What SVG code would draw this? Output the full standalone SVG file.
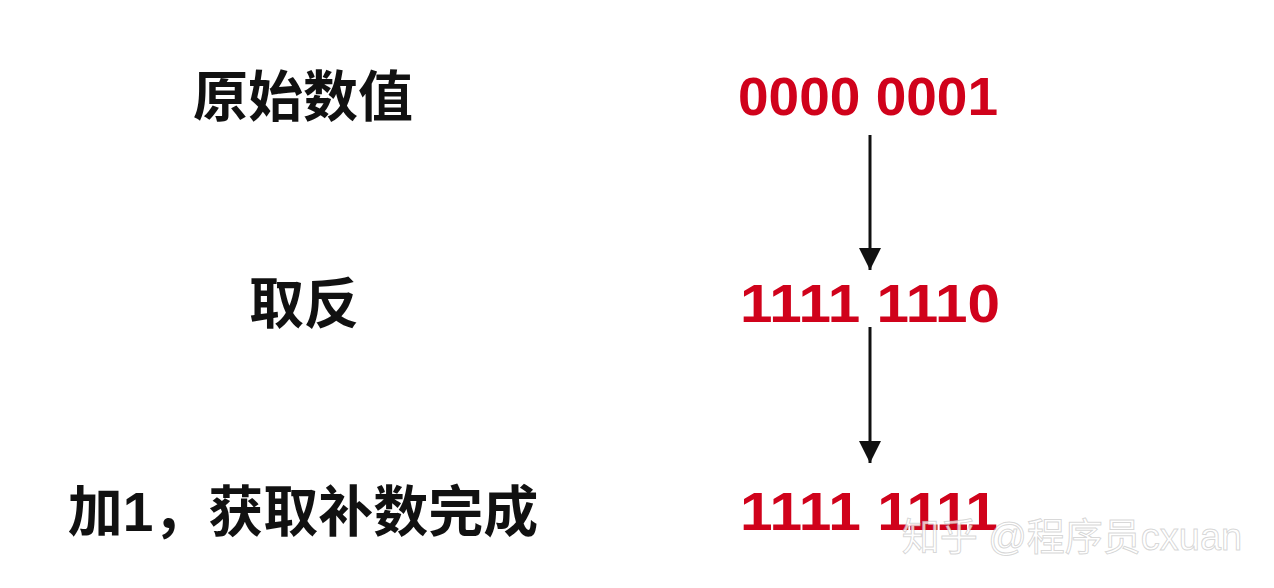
<svg xmlns="http://www.w3.org/2000/svg" width="1274" height="588" viewBox="0 0 1274 588">
<style>
.lb{font-family:"Liberation Sans","Noto Sans CJK SC",sans-serif;font-weight:bold;font-size:55px;fill:#111}
.num{font-family:"Liberation Sans",sans-serif;font-weight:bold;font-size:54px;fill:#d0021b}
.wm{font-family:"Liberation Sans","Noto Sans CJK SC",sans-serif;font-size:38px;fill:#fff;fill-opacity:0.75;stroke:#999;stroke-opacity:0.4;stroke-width:1}
</style>
<defs><marker id="a2" viewBox="0 0 10 10" markerWidth="22" markerHeight="24" refX="10" refY="5" orient="auto" markerUnits="userSpaceOnUse"><path d="M0,0 L10,5 L0,10 Z" fill="#111"/></marker></defs>
<rect width="1274" height="588" fill="#fff"/>
<g id="n1"><text class="lb" x="303" y="116" text-anchor="middle">原始数值</text></g>
<g id="n2"><text class="lb" x="304" y="323" text-anchor="middle">取反</text></g>
<g id="n3"><text class="lb" x="303" y="531" text-anchor="middle">加1，获取补数完成</text></g>
<g id="v1"><text class="num" x="738" y="115" textLength="260" lengthAdjust="spacingAndGlyphs">0000 0001</text></g>
<g id="v2"><text class="num" x="740" y="322" textLength="260" lengthAdjust="spacingAndGlyphs">1111 1110</text></g>
<g id="v3"><text class="num" x="740" y="530" textLength="258" lengthAdjust="spacingAndGlyphs">1111 1111</text></g>
<g id="connectors" stroke="#111" stroke-width="3">
<line x1="870" y1="135" x2="870" y2="270" marker-end="url(#a2)"/>
<line x1="870" y1="327" x2="870" y2="463" marker-end="url(#a2)"/>
</g>
<text class="wm" x="1072" y="550" text-anchor="middle">知乎 @程序员cxuan</text>
</svg>
